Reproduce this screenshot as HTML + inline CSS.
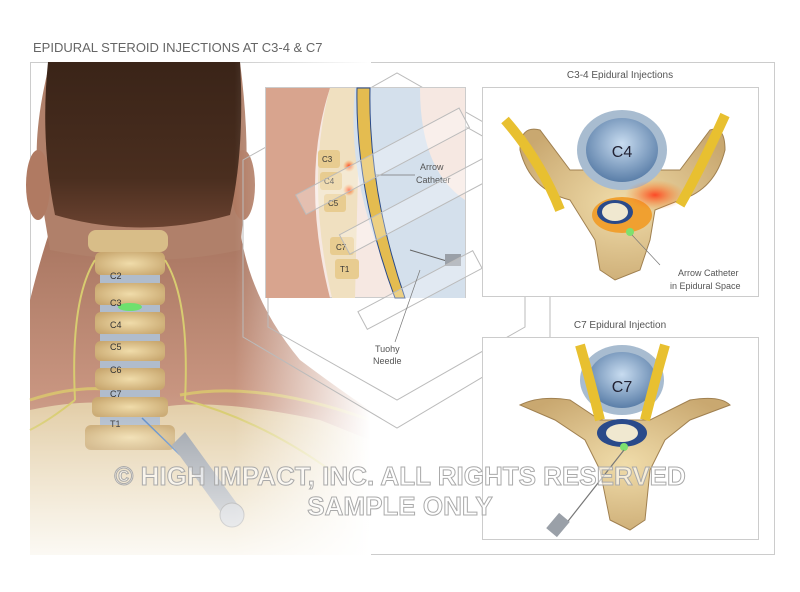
<!DOCTYPE html>
<html><head><style>
html,body{margin:0;padding:0;background:#fff;}
svg{display:block;}
text{font-family:"Liberation Sans",sans-serif;}
</style></head><body>
<svg width="800" height="592" viewBox="0 0 800 592" xmlns="http://www.w3.org/2000/svg">
<defs>
<linearGradient id="hair" x1="0" y1="0" x2="0" y2="1">
<stop offset="0" stop-color="#3a2418"/><stop offset="0.7" stop-color="#4a2e1f"/><stop offset="1" stop-color="#6a4230"/></linearGradient>
<linearGradient id="skin" x1="0" y1="0" x2="0" y2="1">
<stop offset="0" stop-color="#a87560"/><stop offset="0.5" stop-color="#c89580"/><stop offset="1" stop-color="#e8d2c6"/></linearGradient>
<linearGradient id="fadeR" x1="0" y1="0" x2="1" y2="0">
<stop offset="0.6" stop-color="#fff" stop-opacity="0"/><stop offset="1" stop-color="#fff" stop-opacity="1"/></linearGradient>
<linearGradient id="fadeB" x1="0" y1="0" x2="0" y2="1">
<stop offset="0.7" stop-color="#fff" stop-opacity="0"/><stop offset="1" stop-color="#fff" stop-opacity="0.85"/></linearGradient>
<radialGradient id="bone" cx="0.5" cy="0.5" r="0.6">
<stop offset="0" stop-color="#f0dcaa"/><stop offset="1" stop-color="#c9a870"/></radialGradient>
<radialGradient id="cord" cx="0.5" cy="0.4" r="0.6">
<stop offset="0" stop-color="#c8dcf0"/><stop offset="1" stop-color="#5a7ea8"/></radialGradient>
<radialGradient id="glow" cx="0.5" cy="0.5" r="0.5">
<stop offset="0" stop-color="#ff3a1a" stop-opacity="0.9"/><stop offset="1" stop-color="#ff8a20" stop-opacity="0"/></radialGradient>
</defs>
<rect width="800" height="592" fill="#fff"/>
<text x="33" y="52" font-size="13" fill="#666">EPIDURAL STEROID INJECTIONS AT C3-4 &amp; C7</text>
<rect x="30.5" y="62.5" width="744" height="492" fill="none" stroke="#ccc"/>

<!-- left illustration -->
<g>
<path d="M30 300 Q40 260 50 230 L240 230 Q250 300 300 360 Q340 390 370 410 V555 H30Z" fill="url(#skin)"/>
<path d="M40 190 Q30 140 50 62 H240 Q250 140 245 200 L240 250 Q150 270 50 250Z" fill="#b0806a"/>
<ellipse cx="38" cy="185" rx="12" ry="35" fill="#b07a62"/>
<ellipse cx="243" cy="185" rx="12" ry="35" fill="#b07a62"/>
<path d="M48 62 H240 Q245 150 230 215 Q140 240 55 215 Q40 140 48 62Z" fill="url(#hair)"/>
<path d="M30 410 Q100 395 150 410 Q200 395 320 420 L370 440 V555 H30Z" fill="#e8d8b0" opacity="0.85"/>
<path d="M30 400 Q90 380 140 395 M180 395 Q260 380 370 420" stroke="#d8c070" stroke-width="3" fill="none"/>
<g>
<rect x="88" y="230" width="80" height="22" rx="8" fill="#d8bd88"/>
<rect x="95" y="252" width="70" height="23" rx="6" fill="url(#bone)"/>
<rect x="100" y="275" width="60" height="8" fill="#b0bccc"/>
<rect x="95" y="283" width="70" height="22" rx="6" fill="url(#bone)"/>
<rect x="100" y="305" width="60" height="7" fill="#b0bccc"/>
<rect x="95" y="312" width="70" height="22" rx="6" fill="url(#bone)"/>
<rect x="100" y="334" width="60" height="7" fill="#b0bccc"/>
<rect x="95" y="341" width="70" height="20" rx="6" fill="url(#bone)"/>
<rect x="100" y="361" width="60" height="7" fill="#b0bccc"/>
<rect x="95" y="368" width="70" height="22" rx="6" fill="url(#bone)"/>
<rect x="100" y="390" width="60" height="7" fill="#b0bccc"/>
<rect x="92" y="397" width="76" height="20" rx="6" fill="url(#bone)"/>
<rect x="100" y="417" width="60" height="8" fill="#b0bccc"/>
<rect x="85" y="425" width="90" height="25" rx="6" fill="url(#bone)"/>
<ellipse cx="130" cy="307" rx="12" ry="4" fill="#6ee06e"/>
<path d="M95 260 Q70 300 75 400 M165 260 Q190 300 185 400 M75 400 Q50 420 30 430 M185 400 Q260 420 330 470" stroke="#d8cc70" stroke-width="2" fill="none"/>
<g font-size="9" fill="#333">
<text x="110" y="279">C2</text><text x="110" y="306">C3</text><text x="110" y="328">C4</text><text x="110" y="350">C5</text><text x="110" y="373">C6</text><text x="110" y="397">C7</text><text x="110" y="427">T1</text>
</g>
</g>
<line x1="142" y1="418" x2="180" y2="455" stroke="#5a8ac8" stroke-width="1.5"/>
<path d="M172 445 L185 432 L238 505 L225 518Z" fill="#9aa0a8"/>
<circle cx="232" cy="515" r="12" fill="#b8bcc2" stroke="#777"/>
<rect x="30" y="62" width="341" height="493" fill="url(#fadeR)"/>
<rect x="30" y="62" width="341" height="493" fill="url(#fadeB)"/>
</g>

<!-- hexagons -->
<path d="M243 160 L397 73 L550 160 L550 337 L397 428 L243 337 Z" fill="none" stroke="#bbb"/>
<path d="M268 160 L397 88 L525 160 L525 327 L397 400 L268 327 Z" fill="none" stroke="#bbb"/>

<!-- middle sagittal panel -->
<rect x="265.5" y="87.5" width="200" height="210" fill="#f6e8e2" stroke="#ccc"/>
<path d="M266 88 H330 Q300 180 330 298 H266Z" fill="#d8a48e"/>
<path d="M330 88 H360 L355 298 H332 Q305 180 330 88Z" fill="#f0e0c0"/>
<path d="M355 88 Q345 190 400 298 H465 V200 Q420 170 420 88Z" fill="#d4e0ec"/>
<path d="M357 88 Q355 190 395 298 L405 298 Q368 190 370 88Z" fill="#e4bc50" stroke="#2a4a8a"/>
<g fill="#e8cc90">
<rect x="318" y="150" width="22" height="18" rx="3"/><rect x="320" y="172" width="22" height="18" rx="3"/><rect x="324" y="194" width="22" height="18" rx="3"/><rect x="330" y="237" width="24" height="18" rx="3"/><rect x="335" y="259" width="24" height="20" rx="3"/>
</g>
<circle cx="349" cy="166" r="6" fill="url(#glow)"/><circle cx="349" cy="190" r="6" fill="url(#glow)"/>
<g font-size="8" fill="#333"><text x="322" y="162">C3</text><text x="324" y="184">C4</text><text x="328" y="206">C5</text><text x="336" y="250">C7</text><text x="340" y="272">T1</text></g>
<line x1="410" y1="250" x2="450" y2="262" stroke="#666"/>
<rect x="445" y="254" width="16" height="12" fill="#9aa0a8"/>
<text x="420" y="170" font-size="9" fill="#555">Arrow</text>
<text x="416" y="183" font-size="9" fill="#555">Catheter</text>
<line x1="375" y1="175" x2="415" y2="175" stroke="#777" stroke-width="0.7"/>
<rect x="335" y="195" width="165" height="22" fill="#fff" fill-opacity="0.3" stroke="#bbb" transform="rotate(-28 417 206)"/>
<rect x="290" y="150" width="185" height="22" fill="#fff" fill-opacity="0.3" stroke="#bbb" transform="rotate(-28 383 161)"/>
<rect x="355" y="280" width="130" height="20" fill="#fff" fill-opacity="0.3" stroke="#bbb" transform="rotate(-28 420 290)"/>
<text x="375" y="352" font-size="9" fill="#555">Tuohy</text>
<text x="373" y="364" font-size="9" fill="#555">Needle</text>
<line x1="395" y1="342" x2="420" y2="270" stroke="#777" stroke-width="0.7"/>

<!-- right top panel -->
<text x="620" y="78" font-size="10" fill="#555" text-anchor="middle">C3-4 Epidural Injections</text>
<rect x="482.5" y="87.5" width="276" height="209" fill="#fff" stroke="#ccc"/>
<path d="M520 150 Q520 125 540 130 L570 170 L680 170 L710 130 Q725 125 725 150 Q715 190 680 200 L655 210 L650 240 L640 270 L615 280 L600 270 L595 240 L570 200 Q530 190 520 150Z" fill="url(#bone)" stroke="#a08050"/>
<ellipse cx="622" cy="150" rx="45" ry="40" fill="#a8bcd0"/>
<ellipse cx="622" cy="150" rx="36" ry="32" fill="url(#cord)"/>
<text x="622" y="157" font-size="16" fill="#223" text-anchor="middle">C4</text>
<ellipse cx="622" cy="215" rx="30" ry="18" fill="#f0a030"/>
<ellipse cx="615" cy="212" rx="18" ry="12" fill="#2a4a8a"/>
<ellipse cx="615" cy="212" rx="13" ry="9" fill="#f0e8d0"/>
<ellipse cx="655" cy="195" rx="30" ry="15" fill="url(#glow)"/>
<circle cx="630" cy="232" r="4" fill="#7ee06e"/>
<path d="M505 120 Q540 160 560 210 M725 115 Q700 170 680 205" stroke="#e8c030" stroke-width="10" fill="none"/>
<text x="678" y="276" font-size="9" fill="#555">Arrow Catheter</text>
<text x="670" y="289" font-size="9" fill="#555">in Epidural Space</text>
<line x1="632" y1="235" x2="660" y2="265" stroke="#777" stroke-width="0.7"/>

<!-- right bottom panel -->
<text x="620" y="328" font-size="10" fill="#555" text-anchor="middle">C7 Epidural Injection</text>
<rect x="482.5" y="337.5" width="276" height="202" fill="#fff" stroke="#ccc"/>
<path d="M520 405 Q540 395 570 400 L600 420 L650 420 L690 400 Q720 395 730 405 L690 420 L665 440 L650 470 L645 520 L630 530 L610 520 L600 470 L585 440 L555 420Z" fill="url(#bone)" stroke="#a08050"/>
<ellipse cx="622" cy="380" rx="42" ry="35" fill="#a8bcd0"/>
<ellipse cx="622" cy="380" rx="34" ry="28" fill="url(#cord)"/>
<text x="622" y="392" font-size="16" fill="#223" text-anchor="middle">C7</text>
<ellipse cx="622" cy="433" rx="25" ry="14" fill="#2a4a8a"/>
<ellipse cx="622" cy="433" rx="16" ry="9" fill="#f0e8d0"/>
<circle cx="624" cy="447" r="4" fill="#7ee06e"/>
<path d="M580 345 Q590 380 600 420 M665 345 Q655 380 645 420" stroke="#e8c030" stroke-width="10" fill="none"/>
<line x1="624" y1="450" x2="565" y2="525" stroke="#777" stroke-width="1.2"/>
<rect x="548" y="518" width="20" height="14" fill="#9aa0a8" transform="rotate(-50 558 525)"/>

<g font-size="26" font-weight="bold" fill="#fff" fill-opacity="0.6" stroke="#aaa" stroke-width="1" text-anchor="middle">
<text x="400" y="485">© HIGH IMPACT, INC. ALL RIGHTS RESERVED</text>
<text x="400" y="515">SAMPLE ONLY</text>
</g>
</svg>
</body></html>
